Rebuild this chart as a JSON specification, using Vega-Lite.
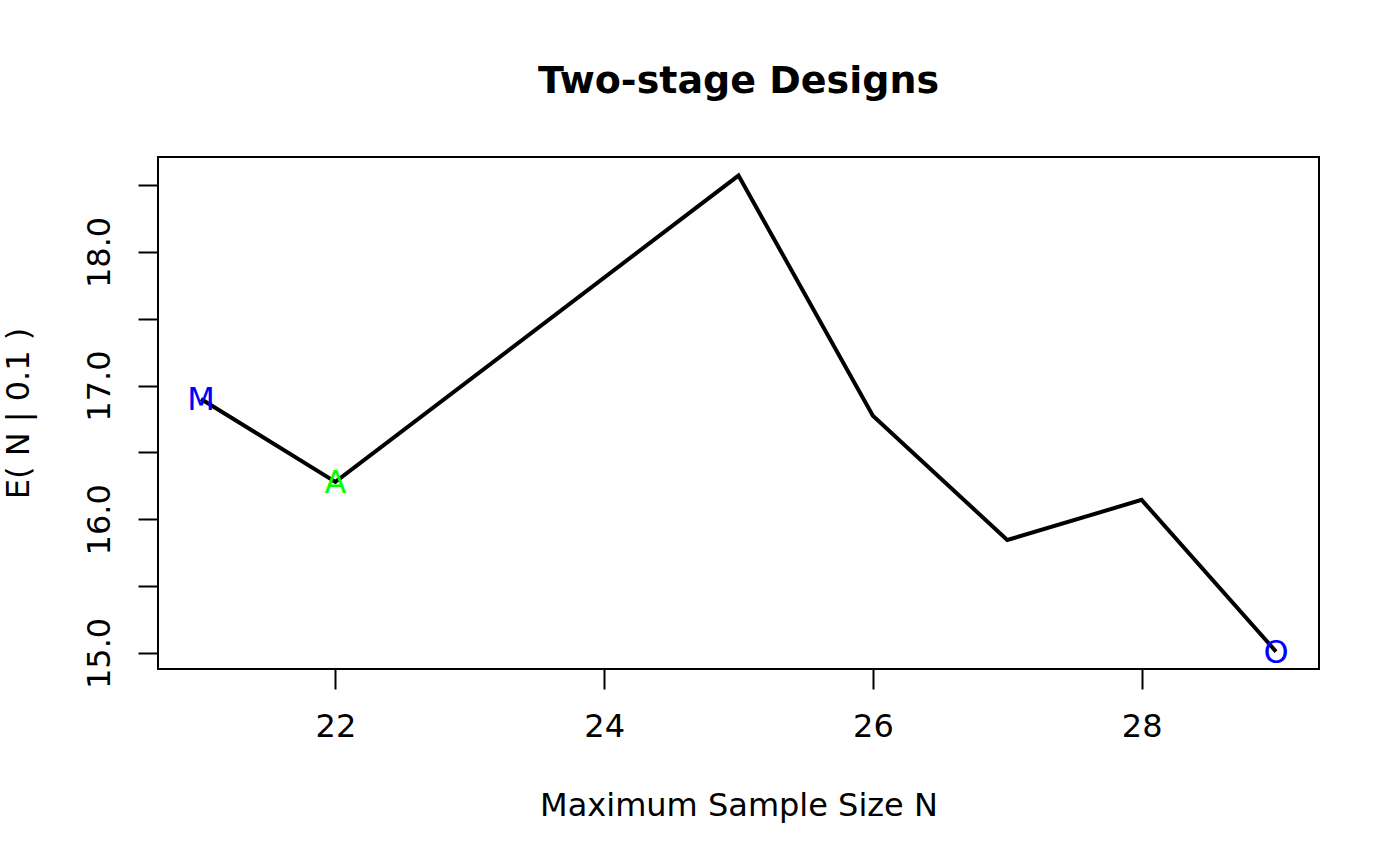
{
  "$schema": "https://vega.github.io/schema/vega-lite/v6.json",
  "autosize": "none",
  "width": 1161,
  "height": 512,
  "padding": {"left": 158, "top": 157, "right": 81, "bottom": 197},
  "background": "white",
  "title": {
    "text": "Two-stage Designs",
    "font": "DejaVu Sans",
    "fontSize": 38,
    "fontWeight": "bold",
    "color": "black",
    "anchor": "middle",
    "frame": "group",
    "baseline": "alphabetic",
    "offset": 26
  },
  "config": {
    "view": {"stroke": "black", "strokeWidth": 2},
    "axis": {
      "grid": false,
      "domain": false,
      "tickColor": "black",
      "tickWidth": 2,
      "tickSize": 20,
      "labelFont": "DejaVu Sans",
      "labelFontSize": 32,
      "labelColor": "black",
      "titleFont": "DejaVu Sans",
      "titleFontSize": 32,
      "titleFontWeight": "normal",
      "titleColor": "black"
    }
  },
  "data": {
    "values": [
      {"n": 21, "en": 16.9, "label": "M"},
      {"n": 22, "en": 16.28, "label": "A"},
      {"n": 25, "en": 18.571, "label": null},
      {"n": 26, "en": 16.775, "label": null},
      {"n": 27, "en": 15.845, "label": null},
      {"n": 28, "en": 16.145, "label": null},
      {"n": 29, "en": 15.01, "label": "O"}
    ]
  },
  "encoding": {
    "x": {
      "field": "n",
      "type": "quantitative",
      "scale": {"domain": [20.68, 29.32], "nice": false, "zero": false},
      "axis": {
        "title": "Maximum Sample Size N",
        "values": [22, 24, 26, 28],
        "format": "d",
        "labelPadding": 22,
        "labelFlush": false,
        "titleX": 580.5,
        "titleY": 136,
        "titleBaseline": "middle"
      }
    },
    "y": {
      "field": "en",
      "type": "quantitative",
      "scale": {"domain": [14.88, 18.71], "nice": false, "zero": false},
      "axis": {
        "title": "E( N | 0.1 )",
        "values": [15, 15.5, 16, 16.5, 17, 17.5, 18, 18.5],
        "labelExpr": "datum.value % 1 === 0 ? format(datum.value, '.1f') : ''",
        "labelAngle": 270,
        "labelAlign": "center",
        "labelBaseline": "bottom",
        "labelPadding": 22,
        "labelFlush": false,
        "titleAngle": 270,
        "titleAlign": "center",
        "titleBaseline": "middle",
        "titleX": -140,
        "titleY": 256
      }
    }
  },
  "layer": [
    {
      "mark": {"type": "line", "color": "black", "strokeWidth": 4}
    },
    {
      "transform": [{"filter": "datum.label != null"}],
      "mark": {"type": "text", "font": "DejaVu Sans", "fontSize": 32, "align": "center", "baseline": "middle", "dy": 1},
      "encoding": {
        "text": {"field": "label", "type": "nominal"},
        "color": {
          "field": "label",
          "type": "nominal",
          "scale": {"domain": ["M", "A", "O"], "range": ["#0000FF", "#00FF00", "#0000FF"]},
          "legend": null
        }
      }
    }
  ]
}
